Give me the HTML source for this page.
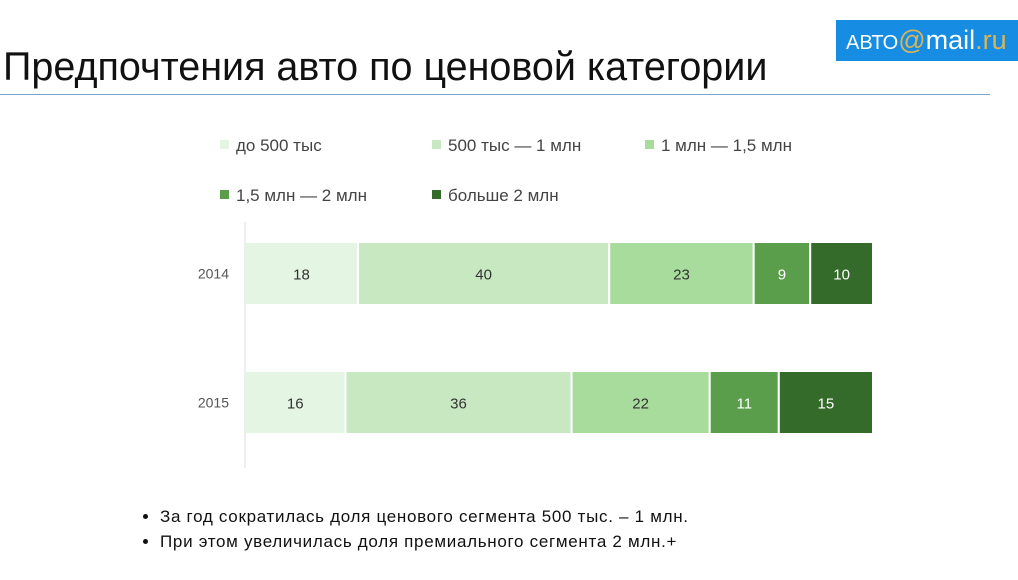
<!DOCTYPE html>
<html><head><meta charset="utf-8"><style>
body{margin:0;width:1018px;height:580px;background:#fff;font-family:"Liberation Sans",sans-serif;position:relative;overflow:hidden}
.abs{position:absolute}
</style></head><body>
<div class="abs" style="left:3px;top:45px;font-size:39.5px;color:#111;white-space:nowrap">Предпочтения авто по ценовой категории</div>
<div class="abs" style="left:0;top:94px;width:990px;height:1px;background:#7aa7c9"></div>
<div class="abs" style="left:836px;top:20px;width:182px;height:41px;background:#168de2;color:#fff;font-size:27px;line-height:41px;white-space:nowrap;padding-left:10px;box-sizing:border-box"><span style="font-size:20px">АВТО</span><span style="color:#d9b45a">@</span>mail<span style="color:#d9b45a">.ru</span></div>
<svg class="abs" style="left:0;top:0" width="1018" height="580">
<g id="legend"></g><g id="bars"></g>
<line x1="245" y1="222" x2="245" y2="468" stroke="#ddd"/>
</svg>
<ul class="abs" style="left:100px;top:504px;margin:0;padding-left:60px;font-size:17px;line-height:25px;color:#111;letter-spacing:0.7px;white-space:nowrap">
<li style="padding-left:0">За год сократилась доля ценового сегмента 500 тыс. – 1 млн.</li>
<li>При этом увеличилась доля премиального сегмента 2 млн.+</li>
</ul>
<script>
const categories=["2014","2015"];
const seriesNames=["до 500 тыс","500 тыс — 1 млн","1 млн — 1,5 млн","1,5 млн — 2 млн","больше 2 млн"];
const s1=[18,16],s2=[40,36],s3=[23,22],s4=[9,11],s5=[10,15];
const series=[s1,s2,s3,s4,s5];
const colors=["#e5f5e3","#c8e8c2","#a8dc9c","#5a9e4c","#356b2a"];
const NS="http://www.w3.org/2000/svg";
const x0=245,x1=873,total=100;
const xs=v=>x0+(v/total)*(x1-x0);
const ys=i=>242+i*129;
const bh=63;
function mk(t,a,p){const e=document.createElementNS(NS,t);for(const k in a)e.setAttribute(k,a[k]);p.appendChild(e);return e;}
const bars=document.getElementById('bars'),leg=document.getElementById('legend');
const lpos=[[220,145],[432,145],[645,145],[220,195],[432,195]];
seriesNames.forEach((n,j)=>{
 const r=mk('rect',{x:lpos[j][0],y:lpos[j][1]-5,width:9,height:9,fill:colors[j]},leg);
 
 
 const t=mk('text',{x:lpos[j][0]+16,y:lpos[j][1]+6,'font-size':17,fill:'#444'},leg);t.textContent=n;
 
 
});
categories.forEach((c,i)=>{
 const y=ys(i);
 const lb=mk('text',{x:229,y:y+bh/2+5,'font-size':14,fill:'#555','text-anchor':'end'},bars);lb.textContent=c;
 
 
 let cum=0;
 series.forEach((s,j)=>{
  const v=s[i];const xa=xs(cum),xb=xs(cum+v);
  const r=mk('rect',{x:xa,y:y,width:xb-xa,height:bh,fill:colors[j],stroke:'#fff','stroke-width':2},bars);
  
  
  const t=mk('text',{x:(xa+xb)/2,y:y+bh/2+6,'font-size':15,fill:j>=3?'#fff':'#333','text-anchor':'middle'},bars);t.textContent=v;
  
  
  cum+=v;
 });
});
</script>
</body></html>
